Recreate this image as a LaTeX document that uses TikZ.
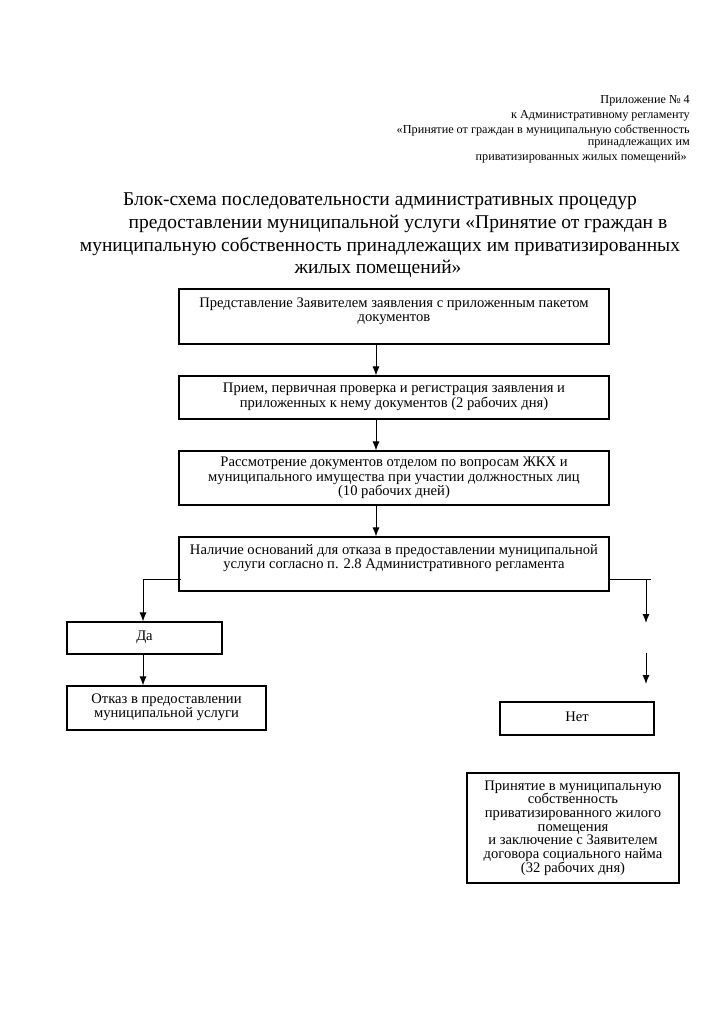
\documentclass[tikz,border=0pt]{standalone}
\usepackage{fontspec}
\setmainfont{Liberation Serif}
\usetikzlibrary{arrows.meta}
\begin{document}
\begin{tikzpicture}[x=1pt,y=-1pt,
  box/.style={draw, line width=1.1pt, rectangle, inner sep=0pt},
  txt/.style={inner sep=0pt, align=center, font=\fontsize{14.6}{14.5}\selectfont},
  hdr/.style={inner sep=0pt, anchor=east, font=\fontsize{12.2}{14}\selectfont},
  ttl/.style={inner sep=0pt, font=\fontsize{19.5}{23}\selectfont},
  arr/.style={line width=1pt, -{Latex[length=9pt,width=7pt]}},
  ln/.style={line width=1pt}]
\useasboundingbox (0,0) rectangle (724,1024);
\fill[white] (0,0) rectangle (724,1024);
% header
\node[hdr] (h1) at (690,101) {Приложение № 4};
\node[hdr] (h2) at (690,116) {к Административному регламенту};
\node[hdr] (h3) at (690,130) {«Принятие от граждан в муниципальную собственность};
\node[hdr] (h4) at (690,144) {принадлежащих им};
\node[hdr] (h5) at (687,158) {приватизированных жилых помещений»};
% title
\node[ttl] (t1) at (380,201) {Блок-схема последовательности административных процедур};
\node[ttl] (t2) at (398,224) {предоставлении муниципальной услуги «Принятие от граждан в};
\node[ttl] (t3) at (380,247) {муниципальную собственность принадлежащих им приватизированных};
\node[ttl] (t4) at (378,269) {жилых помещений»};
% boxes
\node[box, minimum width=430, minimum height=55] (b1) at (394,316.5) {};
\node[txt] (x1) at (394,311) {Представление Заявителем заявления с приложенным пакетом\\документов};
\node[box, minimum width=430, minimum height=43] (b2) at (394,397.5) {};
\node[txt] (x2) at (394,397) {Прием, первичная проверка и регистрация заявления и\\приложенных к нему документов (2 рабочих дня)};
\node[box, minimum width=430, minimum height=54] (b3) at (394,478) {};
\node[txt] (x3) at (394,478) {Рассмотрение документов отделом по вопросам ЖКХ и\\муниципального имущества при участии должностных лиц\\(10 рабочих дней)};
\node[box, minimum width=430, minimum height=54] (b4) at (394,564) {};
\node[txt] (x4) at (394,558) {Наличие оснований для отказа в предоставлении муниципальной\\услуги согласно п. 2.8 Административного регламента};
\node[box, minimum width=155, minimum height=32] (da) at (144.5,638) {};
\node[txt] (xda) at (144.5,637) {Да};
\node[box, minimum width=199, minimum height=44] (ot) at (166.5,708) {};
\node[txt] (xot) at (166.5,707) {Отказ в предоставлении\\муниципальной услуги};
\node[box, minimum width=154, minimum height=33] (net) at (577,718.5) {};
\node[txt] (xnet) at (577,717) {Нет};
\node[box, minimum width=212, minimum height=110] (fin) at (573,828) {};
\node[txt, font=\fontsize{14.6}{13.7}\selectfont] (xfin) at (573,828) {Принятие в муниципальную\\собственность\\приватизированного жилого\\помещения\\и заключение с Заявителем\\договора социального найма\\(32 рабочих дня)};
% connectors
\draw[arr] (b1.south -| 376,0) -- (b2.north -| 376,0);
\draw[arr] (b2.south -| 376,0) -- (b3.north -| 376,0);
\draw[arr] (b3.south -| 376,0) -- (b4.north -| 376,0);
\coordinate (lstart) at (181,579);
\coordinate (rend) at (651,579);
\draw[ln] (lstart) -- (143,579);
\draw[arr] (143,579) -- (da.north -| 143,0);
\draw[arr] (da.south -| 143,0) -- (ot.north -| 143,0);
\draw[ln] (b4.east |- 0,579) -- (rend);
\coordinate (r1) at (646,623);
\coordinate (r2a) at (646,653);
\coordinate (r2b) at (646,684);
\draw[arr] (646,579) -- (r1);
\draw[arr] (r2a) -- (r2b);
\end{tikzpicture}
\end{document}
